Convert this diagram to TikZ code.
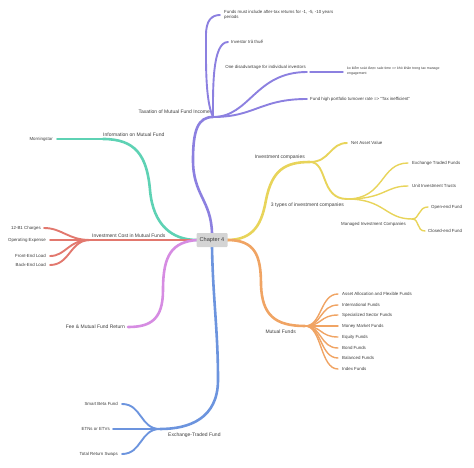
\documentclass[tikz,border=0pt]{standalone}
\usepackage{fontspec}
\setmainfont{Liberation Sans}
\definecolor{txt}{RGB}{60,60,60}
\definecolor{cpurple}{RGB}{140,128,224}
\definecolor{cteal}{RGB}{94,210,180}
\definecolor{cred}{RGB}{226,120,110}
\definecolor{cpink}{RGB}{214,140,226}
\definecolor{cblue}{RGB}{108,148,222}
\definecolor{cyellow}{RGB}{232,212,90}
\definecolor{corange}{RGB}{240,164,100}
\begin{document}
\begin{tikzpicture}[x=1pt,y=-1pt,
 br/.style={line width=2.6pt,line cap=round},
 sb/.style={line width=1.9pt,line cap=round},
 ssb/.style={line width=1.4pt,line cap=round},
 lab/.style={inner sep=0pt,text=txt,font=\fontsize{5}{6}\selectfont},
 labb/.style={inner sep=0pt,text=txt,font=\fontsize{4.4}{5.4}\selectfont},
 labc/.style={inner sep=0pt,text=txt,font=\fontsize{3.5}{4.6}\selectfont,align=left}]
\useasboundingbox (0,0) rectangle (474,468);

% ---------- coordinates ----------
\coordinate (cT) at (212,233);
\coordinate (cB) at (212,247);
\coordinate (cL) at (197,240);
\coordinate (cR) at (227,240);
% purple
\coordinate (tax) at (213,117);
\coordinate (f1) at (220,15);
\coordinate (f2) at (228,42);
\coordinate (f3) at (307,72);
\coordinate (f3a) at (310,72);
\coordinate (f3b) at (343,72);
\coordinate (f4) at (307,99);
% teal
\coordinate (info) at (103,139);
\coordinate (mstar) at (57,139);
% red
\coordinate (cost) at (90,240);
\coordinate (r1) at (44,228);
\coordinate (r2) at (50,240);
\coordinate (r3) at (50,256);
\coordinate (r4) at (50,265);
% pink
\coordinate (fee) at (128,327);
% blue
\coordinate (etf) at (160,429);
\coordinate (b1) at (122,404);
\coordinate (b2) at (113,429);
\coordinate (b3) at (122,454);
% yellow
\coordinate (invc) at (310,162);
\coordinate (nav) at (347,143);
\coordinate (three) at (347,199);
\coordinate (y1) at (408,163);
\coordinate (y2) at (408,186);
\coordinate (mic) at (412,219);
\coordinate (y3) at (428,207);
\coordinate (y4) at (425,231);
% orange
\coordinate (mf) at (305,326);
\foreach \i/\yy in {1/294,2/305,3/315,4/326,5/337,6/348,7/358,8/369}
  \coordinate (o\i) at (338,\yy);

% ---------- purple branch ----------
\draw[br,cpurple] (cT) .. controls (211,200) and (193,195) .. (193,160)
   .. controls (193,130) and (198,117) .. (tax);
\draw[sb,cpurple] (tax) .. controls (205,100) and (206,60) .. (206,35) .. controls (206,20) and (212,15) .. (f1);
\draw[sb,cpurple] (tax) .. controls (213,90) and (212,42) .. (f2);
\draw[sb,cpurple] (tax) .. controls (250,117) and (255,72) .. (f3);
\draw[ssb,cpurple] (f3a) -- (f3b);
\draw[sb,cpurple] (tax) .. controls (255,117) and (260,99) .. (f4);

% ---------- teal branch ----------
\draw[br,cteal] (cL) .. controls (172,240) and (153,225) .. (150,190)
   .. controls (147,155) and (135,139) .. (info);
\draw[sb,cteal] (info) -- (mstar);

% ---------- red branch ----------
\draw[br,cred] (cL) -- (cost);
\draw[sb,cred] (cost) .. controls (68,240) and (62,228) .. (r1);
\draw[sb,cred] (cost) -- (r2);
\draw[sb,cred] (cost) .. controls (68,240) and (66,256) .. (r3);
\draw[sb,cred] (cost) .. controls (70,240) and (70,265) .. (r4);

% ---------- pink branch ----------
\draw[br,cpink] (cL) .. controls (172,242) and (163,255) .. (163,290)
   .. controls (163,320) and (150,327) .. (fee);

% ---------- blue branch ----------
\draw[br,cblue] (cB) .. controls (213,300) and (218,330) .. (218,380)
   .. controls (218,418) and (190,429) .. (etf);
\draw[sb,cblue] (etf) .. controls (140,429) and (142,404) .. (b1);
\draw[sb,cblue] (etf) -- (b2);
\draw[sb,cblue] (etf) .. controls (140,429) and (142,454) .. (b3);

% ---------- yellow branch ----------
\draw[br,cyellow] (cR) .. controls (255,240) and (262,222) .. (266,200)
   .. controls (272,170) and (285,162) .. (invc);
\draw[sb,cyellow] (invc) .. controls (330,162) and (330,143) .. (nav);
\draw[sb,cyellow] (invc) .. controls (328,162) and (320,199) .. (three);
\draw[ssb,cyellow] (three) .. controls (385,199) and (380,163) .. (y1);
\draw[ssb,cyellow] (three) .. controls (385,199) and (385,186) .. (y2);
\draw[ssb,cyellow] (three) .. controls (385,199) and (385,219) .. (mic);
\draw[ssb,cyellow] (mic) .. controls (420,219) and (418,207) .. (y3);
\draw[ssb,cyellow] (mic) .. controls (420,219) and (416,231) .. (y4);

% ---------- orange branch ----------
\draw[br,corange] (cR) .. controls (255,240) and (261,255) .. (261,285)
   .. controls (262,315) and (275,326) .. (mf);
\foreach \i in {1,...,8}
  \draw[ssb,corange] (mf) .. controls (322,326) and (320,0|-o\i) .. (o\i);

% ---------- texts ----------
\node[lab,anchor=east] (taxt) at (210,112) {Taxation of Mutual Fund Income};
\node[labb,anchor=west,align=left] (f1t) at (224,15) {Funds must include after-tax returns for -1, -5, -10 years\\periods};
\node[labb,anchor=west] (f2t) at (231,42) {Investor trả thuế};
\node[labb,anchor=east] (f3t) at (306,67) {One disadvantage for individual investors};
\node[labc,anchor=west] (f3c) at (347,71) {ko kiểm soát được sale time => khó khăn trong tax manage\\engagement};
\node[labb,anchor=west] (f4t) at (310,99) {Fund high portfolio turnover rate => "Tax inefficient"};

\node[lab,anchor=south west] (infot) at (103,136.5) {Information on Mutual Fund};
\node[labb,anchor=east] (mstart) at (53,139) {Morningstar};

\node[lab,anchor=south west] (costt) at (92,237.5) {Investment Cost in Mutual Funds};
\node[labb,anchor=east] (r1t) at (41,228) {12-B1 Charges};
\node[labb,anchor=east] (r2t) at (46,240) {Operating Expense};
\node[labb,anchor=east] (r3t) at (46,256) {Front-End Load};
\node[labb,anchor=east] (r4t) at (46,265) {Back-End Load};

\node[lab,anchor=east] (feet) at (125,327) {Fee \& Mutual Fund Return};

\node[lab,anchor=north west] (etft) at (168,432.5) {Exchange-Traded Fund};
\node[labb,anchor=east] (b1t) at (118,404) {Smart Beta Fund};
\node[labb,anchor=east] (b2t) at (110,429) {ETNs or ETVs};
\node[labb,anchor=east] (b3t) at (118,454) {Total Return Swaps};

\node[lab,anchor=south east] (invct) at (305,159.5) {Investment companies};
\node[labb,anchor=west] (navt) at (351,143) {Net Asset Value};
\node[lab,anchor=north east] (threet) at (344,202.5) {3 types of investment companies};
\node[labb,anchor=west] (y1t) at (412,163) {Exchange Traded Funds};
\node[labb,anchor=west] (y2t) at (412,186) {Unit Investment Trusts};
\node[labb,anchor=north east] (mict) at (406,222.5) {Managed Investment Companies};
\node[labb,anchor=west] (y3t) at (431,207) {Open-end Fund};
\node[labb,anchor=west] (y4t) at (428,231) {Closed-end Fund};

\node[lab,anchor=north east] (mft) at (296,329.5) {Mutual Funds};
\foreach \i/\t in {1/Asset Allocation and Flexible Funds,2/International Funds,3/Specialized Sector Funds,4/Money Market Funds,5/Equity Funds,6/Bond Funds,7/Balanced Funds,8/Index Funds}
  \node[labb,anchor=west] (o\i t) at ([xshift=4pt]o\i) {\t};

% ---------- root ----------
\node[fill=black!17,rounded corners=1pt,minimum width=31pt,minimum height=14pt,inner sep=1pt,text=txt,font=\fontsize{5.6}{6.6}\selectfont] (root) at (212,240) {Chapter 4};
\end{tikzpicture}
\end{document}
